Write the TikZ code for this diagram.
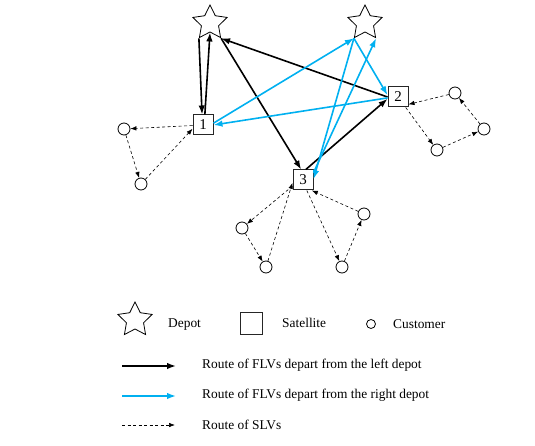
\documentclass[tikz,border=0pt]{standalone}
\usepackage{fontspec}
\setmainfont{Liberation Serif}
\usetikzlibrary{shapes.geometric,arrows.meta}
\definecolor{flvblue}{RGB}{0,176,240}
\begin{document}
\begin{tikzpicture}[x=1pt,y=-1pt,
  depot/.style={draw,star,star points=5,star point ratio=2,minimum size=36pt,inner sep=0pt,line width=0.8pt},
  sat/.style={draw=black!85,rectangle,minimum size=20pt,inner sep=0pt,line width=1pt,font=\fontsize{15}{15}\selectfont},
  cust/.style={draw,circle,minimum size=12pt,inner sep=0pt,line width=0.8pt},
  blk/.style={line width=1.6pt,-{Latex[length=9pt,width=6.5pt]}},
  blu/.style={flvblue,line width=1.6pt,-{Latex[length=9pt,width=6.5pt]}},
  slv/.style={line width=0.6pt,dash pattern=on 3pt off 2.5pt,-{Latex[length=6pt,width=4.5pt]}},
  lbl/.style={anchor=west,inner sep=0pt,font=\fontsize{13.4}{16}\selectfont}
]
\useasboundingbox (0,0) rectangle (535,446);
% depots
\node[depot] (L) at (210,23) {};
\node[depot] (R) at (365,23) {};
% satellites
\node[sat] (S1) at (203,125) {1};
\node[sat] (S2) at (398,97) {2};
\node[sat] (S3) at (303,180) {3};
% customers
\node[cust] (c1a) at (124,129) {};
\node[cust] (c1b) at (141,184) {};
\node[cust] (c2a) at (455,93) {};
\node[cust] (c2b) at (484,129) {};
\node[cust] (c2c) at (437,150) {};
\node[cust] (c3a) at (242,228) {};
\node[cust] (c3b) at (266,267) {};
\node[cust] (c3c) at (342,267) {};
\node[cust] (c3d) at (364,214) {};
% black routes (left depot)
\draw[blk] (L.-126) -- (S1.95);
\draw[blk] (S1.80) -- (L.-90);
\draw[blk] (L.-54) -- (S3.100);
\draw[blk] (S3.75) -- (S2.190);
\draw[blk] (S2.west) -- (L.-54);
% blue routes (right depot)
\draw[blu] (R.-126) -- (S2.170);
\draw[blu] (S2.185) -- (S1.east);
\draw[blu] (S1.10) -- (R.-126);
\draw[blu] (R.-126) -- (S3.5);
\draw[blu] (S3.35) -- (R.-54);
% SLV routes
\draw[slv] (S1) -- (c1a);
\draw[slv] (c1a) -- (c1b);
\draw[slv] (c1b) -- (S1.200);
\draw[slv] (S2) -- (c2c);
\draw[slv] (c2c) -- (c2b);
\draw[slv] (c2b) -- (c2a);
\draw[slv] (c2a) -- (S2.-35);
\draw[slv] (S3.-150) -- (c3a);
\draw[slv] (c3a) -- (c3b);
\draw[slv] (c3b) -- (S3.-165);
\draw[slv] (S3.-70) -- (c3c);
\draw[slv] (c3c) -- (c3d);
\draw[slv] (c3d) -- (S3.-50);
% legend
\node[depot] (lgD) at (135,320) {};
\node[lbl] (lgDt) at (168,325) {Depot};
\node[sat,minimum size=22pt] (lgS) at (251,323.5) {};
\node[lbl] (lgSt) at (282,323) {Satellite};
\node[cust,minimum size=9pt] (lgC) at (371,324) {};
\node[lbl] (lgCt) at (393,324) {Customer};
\coordinate (k1a) at (122,366); \coordinate (k1b) at (176,366);
\coordinate (k2a) at (122,396); \coordinate (k2b) at (176,396);
\coordinate (k3a) at (122,425); \coordinate (k3b) at (175,425);
\draw[blk] (k1a) -- (k1b);
\draw[blu] (k2a) -- (k2b);
\draw[slv] (k3a) -- (k3b);
\node[lbl] (t1) at (202,365) {Route of FLVs depart from the left depot};
\node[lbl] (t2) at (202,395) {Route of FLVs depart from the right depot};
\node[lbl] (t3) at (202,425) {Route of SLVs};
\end{tikzpicture}
\end{document}
